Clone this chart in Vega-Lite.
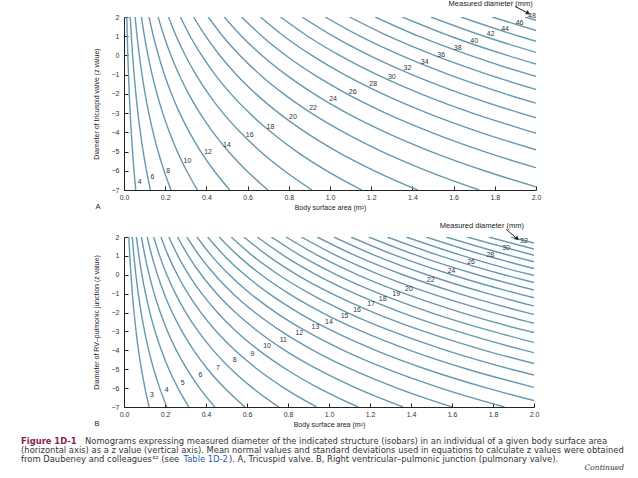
{
  "$schema": "https://vega.github.io/schema/vega-lite/v6.json",
  "autosize": {"type": "none"},
  "padding": {"left": 124, "top": 17, "right": 514, "bottom": 461},
  "background": "white",
  "config": {
    "view": {"stroke": null},
    "font": "Liberation Sans",
    "axis": {"grid": false, "domainColor": "#222", "tickColor": "#222", "labelColor": "#333", "labelFontSize": 7, "titleFontSize": 7, "titleFontWeight": "normal", "titleColor": "#222", "tickSize": -4, "labelOverlap": false, "labelBound": false, "labelFlush": false}
  },
  "datasets": {
    "curvesA": [
      {"d":4,"bsa":0.0135,"z":2},{"d":4,"bsa":0.0159,"z":1},{"d":4,"bsa":0.0186,"z":0},{"d":4,"bsa":0.0218,"z":-1},{"d":4,"bsa":0.0256,"z":-2},{"d":4,"bsa":0.0301,"z":-3},{"d":4,"bsa":0.0353,"z":-4},{"d":4,"bsa":0.0414,"z":-5},{"d":4,"bsa":0.0486,"z":-6},{"d":4,"bsa":0.0570,"z":-7},
      {"d":6,"bsa":0.0304,"z":2},{"d":6,"bsa":0.0357,"z":1},{"d":6,"bsa":0.0419,"z":0},{"d":6,"bsa":0.0491,"z":-1},{"d":6,"bsa":0.0576,"z":-2},{"d":6,"bsa":0.0676,"z":-3},{"d":6,"bsa":0.0794,"z":-4},{"d":6,"bsa":0.0931,"z":-5},{"d":6,"bsa":0.1094,"z":-6},{"d":6,"bsa":0.1283,"z":-7},
      {"d":8,"bsa":0.0541,"z":2},{"d":8,"bsa":0.0634,"z":1},{"d":8,"bsa":0.0744,"z":0},{"d":8,"bsa":0.0873,"z":-1},{"d":8,"bsa":0.1025,"z":-2},{"d":8,"bsa":0.1203,"z":-3},{"d":8,"bsa":0.1412,"z":-4},{"d":8,"bsa":0.1656,"z":-5},{"d":8,"bsa":0.1944,"z":-6},{"d":8,"bsa":0.2281,"z":-7},
      {"d":10,"bsa":0.0845,"z":2},{"d":10,"bsa":0.0991,"z":1},{"d":10,"bsa":0.1163,"z":0},{"d":10,"bsa":0.1365,"z":-1},{"d":10,"bsa":0.1601,"z":-2},{"d":10,"bsa":0.1879,"z":-3},{"d":10,"bsa":0.2206,"z":-4},{"d":10,"bsa":0.2587,"z":-5},{"d":10,"bsa":0.3038,"z":-6},{"d":10,"bsa":0.3564,"z":-7},
      {"d":12,"bsa":0.1216,"z":2},{"d":12,"bsa":0.1427,"z":1},{"d":12,"bsa":0.1675,"z":0},{"d":12,"bsa":0.1965,"z":-1},{"d":12,"bsa":0.2306,"z":-2},{"d":12,"bsa":0.2706,"z":-3},{"d":12,"bsa":0.3177,"z":-4},{"d":12,"bsa":0.3726,"z":-5},{"d":12,"bsa":0.4374,"z":-6},{"d":12,"bsa":0.5132,"z":-7},
      {"d":14,"bsa":0.1655,"z":2},{"d":14,"bsa":0.1942,"z":1},{"d":14,"bsa":0.2280,"z":0},{"d":14,"bsa":0.2675,"z":-1},{"d":14,"bsa":0.3139,"z":-2},{"d":14,"bsa":0.3683,"z":-3},{"d":14,"bsa":0.4324,"z":-4},{"d":14,"bsa":0.5071,"z":-5},{"d":14,"bsa":0.5954,"z":-6},{"d":14,"bsa":0.6985,"z":-7},
      {"d":16,"bsa":0.2162,"z":2},{"d":16,"bsa":0.2536,"z":1},{"d":16,"bsa":0.2978,"z":0},{"d":16,"bsa":0.3493,"z":-1},{"d":16,"bsa":0.4099,"z":-2},{"d":16,"bsa":0.4810,"z":-3},{"d":16,"bsa":0.5647,"z":-4},{"d":16,"bsa":0.6623,"z":-5},{"d":16,"bsa":0.7777,"z":-6},{"d":16,"bsa":0.9123,"z":-7},
      {"d":18,"bsa":0.2736,"z":2},{"d":18,"bsa":0.3210,"z":1},{"d":18,"bsa":0.3769,"z":0},{"d":18,"bsa":0.4421,"z":-1},{"d":18,"bsa":0.5188,"z":-2},{"d":18,"bsa":0.6088,"z":-3},{"d":18,"bsa":0.7147,"z":-4},{"d":18,"bsa":0.8383,"z":-5},{"d":18,"bsa":0.9842,"z":-6},{"d":18,"bsa":1.1547,"z":-7},
      {"d":20,"bsa":0.3378,"z":2},{"d":20,"bsa":0.3963,"z":1},{"d":20,"bsa":0.4653,"z":0},{"d":20,"bsa":0.5458,"z":-1},{"d":20,"bsa":0.6405,"z":-2},{"d":20,"bsa":0.7516,"z":-3},{"d":20,"bsa":0.8824,"z":-4},{"d":20,"bsa":1.0349,"z":-5},{"d":20,"bsa":1.2151,"z":-6},{"d":20,"bsa":1.4255,"z":-7},
      {"d":22,"bsa":0.4088,"z":2},{"d":22,"bsa":0.4795,"z":1},{"d":22,"bsa":0.5630,"z":0},{"d":22,"bsa":0.6605,"z":-1},{"d":22,"bsa":0.7750,"z":-2},{"d":22,"bsa":0.9094,"z":-3},{"d":22,"bsa":1.0677,"z":-4},{"d":22,"bsa":1.2523,"z":-5},{"d":22,"bsa":1.4702,"z":-6},{"d":22,"bsa":1.7249,"z":-7},
      {"d":24,"bsa":0.4865,"z":2},{"d":24,"bsa":0.5707,"z":1},{"d":24,"bsa":0.6700,"z":0},{"d":24,"bsa":0.7860,"z":-1},{"d":24,"bsa":0.9223,"z":-2},{"d":24,"bsa":1.0823,"z":-3},{"d":24,"bsa":1.2707,"z":-4},{"d":24,"bsa":1.4903,"z":-5},{"d":24,"bsa":1.7497,"z":-6},{"d":24,"bsa":2.0,"z":-6.84},
      {"d":26,"bsa":0.5710,"z":2},{"d":26,"bsa":0.6698,"z":1},{"d":26,"bsa":0.7863,"z":0},{"d":26,"bsa":0.9225,"z":-1},{"d":26,"bsa":1.0825,"z":-2},{"d":26,"bsa":1.2702,"z":-3},{"d":26,"bsa":1.4913,"z":-4},{"d":26,"bsa":1.7490,"z":-5},{"d":26,"bsa":2.0,"z":-5.84},
      {"d":28,"bsa":0.6622,"z":2},{"d":28,"bsa":0.7768,"z":1},{"d":28,"bsa":0.9119,"z":0},{"d":28,"bsa":1.0698,"z":-1},{"d":28,"bsa":1.2554,"z":-2},{"d":28,"bsa":1.4731,"z":-3},{"d":28,"bsa":1.7295,"z":-4},{"d":28,"bsa":2.0,"z":-4.91},
      {"d":30,"bsa":0.7601,"z":2},{"d":30,"bsa":0.8917,"z":1},{"d":30,"bsa":1.0469,"z":0},{"d":30,"bsa":1.2281,"z":-1},{"d":30,"bsa":1.4412,"z":-2},{"d":30,"bsa":1.6911,"z":-3},{"d":30,"bsa":1.9854,"z":-4},{"d":30,"bsa":2.0,"z":-4.05},
      {"d":32,"bsa":0.8649,"z":2},{"d":32,"bsa":1.0146,"z":1},{"d":32,"bsa":1.1911,"z":0},{"d":32,"bsa":1.3974,"z":-1},{"d":32,"bsa":1.6397,"z":-2},{"d":32,"bsa":1.9241,"z":-3},{"d":32,"bsa":2.0,"z":-3.24},
      {"d":34,"bsa":0.9764,"z":2},{"d":34,"bsa":1.1454,"z":1},{"d":34,"bsa":1.3447,"z":0},{"d":34,"bsa":1.5775,"z":-1},{"d":34,"bsa":1.8511,"z":-2},{"d":34,"bsa":2.0,"z":-2.48},
      {"d":36,"bsa":1.0946,"z":2},{"d":36,"bsa":1.2841,"z":1},{"d":36,"bsa":1.5075,"z":0},{"d":36,"bsa":1.7685,"z":-1},{"d":36,"bsa":2.0,"z":-1.77},
      {"d":38,"bsa":1.2196,"z":2},{"d":38,"bsa":1.4307,"z":1},{"d":38,"bsa":1.6797,"z":0},{"d":38,"bsa":1.9705,"z":-1},{"d":38,"bsa":2.0,"z":-1.09},
      {"d":40,"bsa":1.3514,"z":2},{"d":40,"bsa":1.5853,"z":1},{"d":40,"bsa":1.8611,"z":0},{"d":40,"bsa":2.0,"z":-0.45},
      {"d":42,"bsa":1.4899,"z":2},{"d":42,"bsa":1.7478,"z":1},{"d":42,"bsa":2.0,"z":0.16},
      {"d":44,"bsa":1.6351,"z":2},{"d":44,"bsa":1.9182,"z":1},{"d":44,"bsa":2.0,"z":0.74},
      {"d":46,"bsa":1.7872,"z":2},{"d":46,"bsa":2.0,"z":1.30},
      {"d":48,"bsa":1.9459,"z":2},{"d":48,"bsa":2.0,"z":1.83}
    ],
    "curvesB": [
      {"d":3,"bsa":0.0235,"z":2},{"d":3,"bsa":0.0283,"z":1},{"d":3,"bsa":0.0340,"z":0},{"d":3,"bsa":0.0408,"z":-1},{"d":3,"bsa":0.0490,"z":-2},{"d":3,"bsa":0.0589,"z":-3},{"d":3,"bsa":0.0708,"z":-4},{"d":3,"bsa":0.0851,"z":-5},{"d":3,"bsa":0.1022,"z":-6},{"d":3,"bsa":0.1228,"z":-7},
      {"d":4,"bsa":0.0401,"z":2},{"d":4,"bsa":0.0482,"z":1},{"d":4,"bsa":0.0579,"z":0},{"d":4,"bsa":0.0695,"z":-1},{"d":4,"bsa":0.0835,"z":-2},{"d":4,"bsa":0.1004,"z":-3},{"d":4,"bsa":0.1206,"z":-4},{"d":4,"bsa":0.1449,"z":-5},{"d":4,"bsa":0.1741,"z":-6},{"d":4,"bsa":0.2092,"z":-7},
      {"d":5,"bsa":0.0606,"z":2},{"d":5,"bsa":0.0728,"z":1},{"d":5,"bsa":0.0875,"z":0},{"d":5,"bsa":0.1051,"z":-1},{"d":5,"bsa":0.1263,"z":-2},{"d":5,"bsa":0.1518,"z":-3},{"d":5,"bsa":0.1823,"z":-4},{"d":5,"bsa":0.2190,"z":-5},{"d":5,"bsa":0.2632,"z":-6},{"d":5,"bsa":0.3162,"z":-7},
      {"d":6,"bsa":0.0850,"z":2},{"d":6,"bsa":0.1021,"z":1},{"d":6,"bsa":0.1227,"z":0},{"d":6,"bsa":0.1474,"z":-1},{"d":6,"bsa":0.1771,"z":-2},{"d":6,"bsa":0.2127,"z":-3},{"d":6,"bsa":0.2556,"z":-4},{"d":6,"bsa":0.3071,"z":-5},{"d":6,"bsa":0.3689,"z":-6},{"d":6,"bsa":0.4433,"z":-7},
      {"d":7,"bsa":0.1130,"z":2},{"d":7,"bsa":0.1358,"z":1},{"d":7,"bsa":0.1632,"z":0},{"d":7,"bsa":0.1961,"z":-1},{"d":7,"bsa":0.2355,"z":-2},{"d":7,"bsa":0.2830,"z":-3},{"d":7,"bsa":0.3400,"z":-4},{"d":7,"bsa":0.4085,"z":-5},{"d":7,"bsa":0.4908,"z":-6},{"d":7,"bsa":0.5897,"z":-7},
      {"d":8,"bsa":0.1448,"z":2},{"d":8,"bsa":0.1739,"z":1},{"d":8,"bsa":0.2090,"z":0},{"d":8,"bsa":0.2510,"z":-1},{"d":8,"bsa":0.3016,"z":-2},{"d":8,"bsa":0.3624,"z":-3},{"d":8,"bsa":0.4354,"z":-4},{"d":8,"bsa":0.5231,"z":-5},{"d":8,"bsa":0.6285,"z":-6},{"d":8,"bsa":0.7551,"z":-7},
      {"d":9,"bsa":0.1800,"z":2},{"d":9,"bsa":0.2163,"z":1},{"d":9,"bsa":0.2599,"z":0},{"d":9,"bsa":0.3122,"z":-1},{"d":9,"bsa":0.3752,"z":-2},{"d":9,"bsa":0.4507,"z":-3},{"d":9,"bsa":0.5415,"z":-4},{"d":9,"bsa":0.6506,"z":-5},{"d":9,"bsa":0.7817,"z":-6},{"d":9,"bsa":0.9391,"z":-7},
      {"d":10,"bsa":0.2189,"z":2},{"d":10,"bsa":0.2629,"z":1},{"d":10,"bsa":0.3159,"z":0},{"d":10,"bsa":0.3796,"z":-1},{"d":10,"bsa":0.4560,"z":-2},{"d":10,"bsa":0.5479,"z":-3},{"d":10,"bsa":0.6583,"z":-4},{"d":10,"bsa":0.7909,"z":-5},{"d":10,"bsa":0.9502,"z":-6},{"d":10,"bsa":1.1416,"z":-7},
      {"d":11,"bsa":0.2611,"z":2},{"d":11,"bsa":0.3137,"z":1},{"d":11,"bsa":0.3769,"z":0},{"d":11,"bsa":0.4528,"z":-1},{"d":11,"bsa":0.5440,"z":-2},{"d":11,"bsa":0.6536,"z":-3},{"d":11,"bsa":0.7853,"z":-4},{"d":11,"bsa":0.9435,"z":-5},{"d":11,"bsa":1.1336,"z":-6},{"d":11,"bsa":1.3619,"z":-7},
      {"d":12,"bsa":0.3068,"z":2},{"d":12,"bsa":0.3686,"z":1},{"d":12,"bsa":0.4428,"z":0},{"d":12,"bsa":0.5320,"z":-1},{"d":12,"bsa":0.6392,"z":-2},{"d":12,"bsa":0.7679,"z":-3},{"d":12,"bsa":0.9226,"z":-4},{"d":12,"bsa":1.1085,"z":-5},{"d":12,"bsa":1.3318,"z":-6},{"d":12,"bsa":1.6001,"z":-7},
      {"d":13,"bsa":0.3557,"z":2},{"d":13,"bsa":0.4274,"z":1},{"d":13,"bsa":0.5135,"z":0},{"d":13,"bsa":0.6170,"z":-1},{"d":13,"bsa":0.7412,"z":-2},{"d":13,"bsa":0.8906,"z":-3},{"d":13,"bsa":1.0700,"z":-4},{"d":13,"bsa":1.2855,"z":-5},{"d":13,"bsa":1.5445,"z":-6},{"d":13,"bsa":1.8556,"z":-7},
      {"d":14,"bsa":0.4081,"z":2},{"d":14,"bsa":0.4904,"z":1},{"d":14,"bsa":0.5892,"z":0},{"d":14,"bsa":0.7078,"z":-1},{"d":14,"bsa":0.8504,"z":-2},{"d":14,"bsa":1.0217,"z":-3},{"d":14,"bsa":1.2276,"z":-4},{"d":14,"bsa":1.4749,"z":-5},{"d":14,"bsa":1.7720,"z":-6},{"d":14,"bsa":2.0,"z":-6.66},
      {"d":15,"bsa":0.4638,"z":2},{"d":15,"bsa":0.5572,"z":1},{"d":15,"bsa":0.6695,"z":0},{"d":15,"bsa":0.8043,"z":-1},{"d":15,"bsa":0.9663,"z":-2},{"d":15,"bsa":1.1610,"z":-3},{"d":15,"bsa":1.3949,"z":-4},{"d":15,"bsa":1.6759,"z":-5},{"d":15,"bsa":2.0,"z":-5.96},
      {"d":16,"bsa":0.5226,"z":2},{"d":16,"bsa":0.6279,"z":1},{"d":16,"bsa":0.7544,"z":0},{"d":16,"bsa":0.9064,"z":-1},{"d":16,"bsa":1.0890,"z":-2},{"d":16,"bsa":1.3083,"z":-3},{"d":16,"bsa":1.5719,"z":-4},{"d":16,"bsa":1.8885,"z":-5},{"d":16,"bsa":2.0,"z":-5.31},
      {"d":17,"bsa":0.5847,"z":2},{"d":17,"bsa":0.7025,"z":1},{"d":17,"bsa":0.8440,"z":0},{"d":17,"bsa":1.0140,"z":-1},{"d":17,"bsa":1.2183,"z":-2},{"d":17,"bsa":1.4637,"z":-3},{"d":17,"bsa":1.7586,"z":-4},{"d":17,"bsa":2.0,"z":-4.70},
      {"d":18,"bsa":0.6500,"z":2},{"d":18,"bsa":0.7810,"z":1},{"d":18,"bsa":0.9383,"z":0},{"d":18,"bsa":1.1273,"z":-1},{"d":18,"bsa":1.3544,"z":-2},{"d":18,"bsa":1.6273,"z":-3},{"d":18,"bsa":1.9551,"z":-4},{"d":18,"bsa":2.0,"z":-4.12},
      {"d":19,"bsa":0.7184,"z":2},{"d":19,"bsa":0.8631,"z":1},{"d":19,"bsa":1.0370,"z":0},{"d":19,"bsa":1.2459,"z":-1},{"d":19,"bsa":1.4969,"z":-2},{"d":19,"bsa":1.7984,"z":-3},{"d":19,"bsa":2.0,"z":-3.58},
      {"d":20,"bsa":0.7900,"z":2},{"d":20,"bsa":0.9492,"z":1},{"d":20,"bsa":1.1404,"z":0},{"d":20,"bsa":1.3701,"z":-1},{"d":20,"bsa":1.6461,"z":-2},{"d":20,"bsa":1.9777,"z":-3},{"d":20,"bsa":2.0,"z":-3.06},
      {"d":21,"bsa":0.8647,"z":2},{"d":21,"bsa":1.0389,"z":1},{"d":21,"bsa":1.2482,"z":0},{"d":21,"bsa":1.4997,"z":-1},{"d":21,"bsa":1.8018,"z":-2},{"d":21,"bsa":2.0,"z":-2.57},
      {"d":22,"bsa":0.9425,"z":2},{"d":22,"bsa":1.1324,"z":1},{"d":22,"bsa":1.3605,"z":0},{"d":22,"bsa":1.6346,"z":-1},{"d":22,"bsa":1.9638,"z":-2},{"d":22,"bsa":2.0,"z":-2.10},
      {"d":23,"bsa":1.0235,"z":2},{"d":23,"bsa":1.2296,"z":1},{"d":23,"bsa":1.4774,"z":0},{"d":23,"bsa":1.7750,"z":-1},{"d":23,"bsa":2.0,"z":-1.65},
      {"d":24,"bsa":1.1075,"z":2},{"d":24,"bsa":1.3306,"z":1},{"d":24,"bsa":1.5986,"z":0},{"d":24,"bsa":1.9207,"z":-1},{"d":24,"bsa":2.0,"z":-1.22},
      {"d":25,"bsa":1.1944,"z":2},{"d":25,"bsa":1.4350,"z":1},{"d":25,"bsa":1.7241,"z":0},{"d":25,"bsa":2.0,"z":-0.81},
      {"d":26,"bsa":1.2844,"z":2},{"d":26,"bsa":1.5431,"z":1},{"d":26,"bsa":1.8539,"z":0},{"d":26,"bsa":2.0,"z":-0.41},
      {"d":27,"bsa":1.3772,"z":2},{"d":27,"bsa":1.6547,"z":1},{"d":27,"bsa":1.9880,"z":0},{"d":27,"bsa":2.0,"z":-0.03},
      {"d":28,"bsa":1.4733,"z":2},{"d":28,"bsa":1.7701,"z":1},{"d":28,"bsa":2.0,"z":0.33},
      {"d":29,"bsa":1.5722,"z":2},{"d":29,"bsa":1.8890,"z":1},{"d":29,"bsa":2.0,"z":0.69},
      {"d":30,"bsa":1.6741,"z":2},{"d":30,"bsa":2.0,"z":1.03},
      {"d":31,"bsa":1.7790,"z":2},{"d":31,"bsa":2.0,"z":1.36},
      {"d":32,"bsa":1.8865,"z":2},{"d":32,"bsa":2.0,"z":1.68}
    ],
    "labelsA": [
      {"t":"4","bsa":0.076,"z":-6.56},{"t":"6","bsa":0.138,"z":-6.30},{"t":"8","bsa":0.215,"z":-5.99},{"t":"10","bsa":0.308,"z":-5.50},{"t":"12","bsa":0.408,"z":-5.03},{"t":"14","bsa":0.500,"z":-4.65},{"t":"16","bsa":0.610,"z":-4.16},{"t":"18","bsa":0.711,"z":-3.72},{"t":"20","bsa":0.820,"z":-3.20},{"t":"22","bsa":0.918,"z":-2.76},{"t":"24","bsa":1.015,"z":-2.29},{"t":"26","bsa":1.110,"z":-1.89},{"t":"28","bsa":1.210,"z":-1.50},{"t":"30","bsa":1.300,"z":-1.10},{"t":"32","bsa":1.376,"z":-0.67},{"t":"34","bsa":1.460,"z":-0.32},{"t":"36","bsa":1.540,"z":0.03},{"t":"38","bsa":1.620,"z":0.38},{"t":"40","bsa":1.700,"z":0.76},{"t":"42","bsa":1.780,"z":1.11},{"t":"44","bsa":1.850,"z":1.37},{"t":"46","bsa":1.920,"z":1.69},{"t":"48","bsa":1.980,"z":2.03}
    ],
    "labelsB": [
      {"t":"3","bsa":0.136,"z":-6.38},{"t":"4","bsa":0.208,"z":-6.08},{"t":"5","bsa":0.286,"z":-5.72},{"t":"6","bsa":0.373,"z":-5.32},{"t":"7","bsa":0.458,"z":-4.93},{"t":"8","bsa":0.540,"z":-4.53},{"t":"9","bsa":0.626,"z":-4.19},{"t":"10","bsa":0.698,"z":-3.78},{"t":"11","bsa":0.777,"z":-3.43},{"t":"12","bsa":0.855,"z":-3.08},{"t":"13","bsa":0.934,"z":-2.78},{"t":"14","bsa":1.000,"z":-2.48},{"t":"15","bsa":1.076,"z":-2.16},{"t":"16","bsa":1.137,"z":-1.85},{"t":"17","bsa":1.205,"z":-1.55},{"t":"18","bsa":1.262,"z":-1.28},{"t":"19","bsa":1.328,"z":-1.00},{"t":"20","bsa":1.390,"z":-0.75},{"t":"22","bsa":1.496,"z":-0.26},{"t":"24","bsa":1.598,"z":0.20},{"t":"26","bsa":1.693,"z":0.66},{"t":"28","bsa":1.787,"z":1.03},{"t":"30","bsa":1.864,"z":1.44},{"t":"32","bsa":1.951,"z":1.77}
    ]
  },
  "spacing": 47,
  "bounds": "flush",
  "vconcat": [
    {
      "width": 412,
      "height": 173,
      "layer": [
        {
          "data": {"name": "curvesA"},
          "mark": {"type": "line", "interpolate": "monotone", "color": "#6698b0", "strokeWidth": 1.4, "clip": true},
          "encoding": {
            "x": {"field": "bsa", "type": "quantitative", "scale": {"domain": [0, 2], "nice": false, "zero": false},
                  "axis": {"values": [0, 0.2, 0.4, 0.6, 0.8, 1, 1.2, 1.4, 1.6, 1.8, 2], "format": ".1f", "title": "Body surface area (m²)", "labelPadding": 7.5, "titlePadding": 3, "labelOverlap": false}},
            "y": {"field": "z", "type": "quantitative", "scale": {"domain": [-7, 2], "nice": false, "zero": false},
                  "axis": {"values": [-7, -6, -5, -4, -3, -2, -1, 0, 1, 2], "tickCount": 10, "title": "Diameter of tricuspid valve (z value)", "labelPadding": 9, "titlePadding": 12, "labelOverlap": false, "labelSeparation": 0}},
            "detail": {"field": "d", "type": "nominal"}
          }
        },
        {
          "data": {"name": "labelsA"},
          "mark": {"type": "text", "fontSize": 7, "color": "#333"},
          "encoding": {
            "x": {"field": "bsa", "type": "quantitative", "scale": {"domain": [0, 2], "nice": false, "zero": false}},
            "y": {"field": "z", "type": "quantitative", "scale": {"domain": [-7, 2], "nice": false, "zero": false}},
            "text": {"field": "t"}
          }
        },
        {
          "data": {"values": [{"bsa": 1.78, "z": 2.70, "t": "Measured diameter (mm)"}, {"bsa": -0.126, "z": -7.89, "t": "A"}]},
          "mark": {"type": "text", "fontSize": 7.5, "color": "#222"},
          "encoding": {
            "x": {"field": "bsa", "type": "quantitative", "scale": {"domain": [0, 2], "nice": false, "zero": false}},
            "y": {"field": "z", "type": "quantitative", "scale": {"domain": [-7, 2], "nice": false, "zero": false}},
            "text": {"field": "t"}
          }
        },
        {
          "data": {"values": [{"bsa": 1.898, "z": 2.55, "bsa2": 1.958, "z2": 2.22}]},
          "mark": {"type": "rule", "color": "#222", "strokeWidth": 1},
          "encoding": {
            "x": {"field": "bsa", "type": "quantitative", "scale": {"domain": [0, 2], "nice": false, "zero": false}},
            "y": {"field": "z", "type": "quantitative", "scale": {"domain": [-7, 2], "nice": false, "zero": false}},
            "x2": {"field": "bsa2"},
            "y2": {"field": "z2"}
          }
        },
        {
          "data": {"values": [{"bsa": 1.962, "z": 2.20}]},
          "mark": {"type": "point", "shape": "triangle-right", "filled": true, "color": "#222", "size": 22, "angle": 30, "opacity": 1},
          "encoding": {
            "x": {"field": "bsa", "type": "quantitative", "scale": {"domain": [0, 2], "nice": false, "zero": false}},
            "y": {"field": "z", "type": "quantitative", "scale": {"domain": [-7, 2], "nice": false, "zero": false}}
          }
        }
      ]
    },
    {
      "width": 410,
      "height": 170,
      "layer": [
        {
          "data": {"name": "curvesB"},
          "mark": {"type": "line", "interpolate": "monotone", "color": "#6698b0", "strokeWidth": 1.4, "clip": true},
          "encoding": {
            "x": {"field": "bsa", "type": "quantitative", "scale": {"domain": [0, 2], "nice": false, "zero": false},
                  "axis": {"values": [0, 0.2, 0.4, 0.6, 0.8, 1, 1.2, 1.4, 1.6, 1.8, 2], "format": ".1f", "title": "Body surface area (m²)", "labelPadding": 7.5, "titlePadding": 3, "labelOverlap": false}},
            "y": {"field": "z", "type": "quantitative", "scale": {"domain": [-7, 2], "nice": false, "zero": false},
                  "axis": {"values": [-7, -6, -5, -4, -3, -2, -1, 0, 1, 2], "tickCount": 10, "title": "Diameter of RV–pulmonic junction (z value)", "labelPadding": 9, "titlePadding": 12, "labelOverlap": false, "labelSeparation": 0}},
            "detail": {"field": "d", "type": "nominal"}
          }
        },
        {
          "data": {"name": "labelsB"},
          "mark": {"type": "text", "fontSize": 7, "color": "#333"},
          "encoding": {
            "x": {"field": "bsa", "type": "quantitative", "scale": {"domain": [0, 2], "nice": false, "zero": false}},
            "y": {"field": "z", "type": "quantitative", "scale": {"domain": [-7, 2], "nice": false, "zero": false}},
            "text": {"field": "t"}
          }
        },
        {
          "data": {"values": [{"bsa": 1.746, "z": 2.58, "t": "Measured diameter (mm)"}, {"bsa": -0.132, "z": -7.89, "t": "B"}]},
          "mark": {"type": "text", "fontSize": 7.5, "color": "#222"},
          "encoding": {
            "x": {"field": "bsa", "type": "quantitative", "scale": {"domain": [0, 2], "nice": false, "zero": false}},
            "y": {"field": "z", "type": "quantitative", "scale": {"domain": [-7, 2], "nice": false, "zero": false}},
            "text": {"field": "t"}
          }
        },
        {
          "data": {"values": [{"bsa": 1.865, "z": 2.40, "bsa2": 1.915, "z2": 1.93}]},
          "mark": {"type": "rule", "color": "#222", "strokeWidth": 1},
          "encoding": {
            "x": {"field": "bsa", "type": "quantitative", "scale": {"domain": [0, 2], "nice": false, "zero": false}},
            "y": {"field": "z", "type": "quantitative", "scale": {"domain": [-7, 2], "nice": false, "zero": false}},
            "x2": {"field": "bsa2"},
            "y2": {"field": "z2"}
          }
        },
        {
          "data": {"values": [{"bsa": 1.918, "z": 1.91}]},
          "mark": {"type": "point", "shape": "triangle-right", "filled": true, "color": "#222", "size": 22, "angle": 45, "opacity": 1},
          "encoding": {
            "x": {"field": "bsa", "type": "quantitative", "scale": {"domain": [0, 2], "nice": false, "zero": false}},
            "y": {"field": "z", "type": "quantitative", "scale": {"domain": [-7, 2], "nice": false, "zero": false}}
          }
        },
        {
          "data": {"values": [{"bsa": -0.502, "z": -8.80, "t": "Figure 1D-1"}]},
          "mark": {"type": "text", "font": "DejaVu Sans", "fontSize": 8.4, "fontWeight": "bold", "color": "#8b2252", "align": "left"},
          "encoding": {
            "x": {"field": "bsa", "type": "quantitative", "scale": {"domain": [0, 2], "nice": false, "zero": false}},
            "y": {"field": "z", "type": "quantitative", "scale": {"domain": [-7, 2], "nice": false, "zero": false}},
            "text": {"field": "t"}
          }
        },
        {
          "data": {"values": [
            {"bsa": -0.19, "z": -8.80, "t": "Nomograms expressing measured diameter of the indicated structure (isobars) in an individual of a given body surface area"},
            {"bsa": -0.502, "z": -9.27, "t": "(horizontal axis) as a z value (vertical axis). Mean normal values and standard deviations used in equations to calculate z values were obtained"},
            {"bsa": -0.502, "z": -9.75, "t": "from Daubeney and colleagues³² (see"},
            {"bsa": 0.512, "z": -9.75, "t": "). A, Tricuspid valve. B, Right ventricular–pulmonic junction (pulmonary valve)."}
          ]},
          "mark": {"type": "text", "font": "DejaVu Sans", "fontSize": 8.4, "color": "#333", "align": "left"},
          "encoding": {
            "x": {"field": "bsa", "type": "quantitative", "scale": {"domain": [0, 2], "nice": false, "zero": false}},
            "y": {"field": "z", "type": "quantitative", "scale": {"domain": [-7, 2], "nice": false, "zero": false}},
            "text": {"field": "t"}
          }
        },
        {
          "data": {"values": [{"bsa": 0.29, "z": -9.75, "t": "Table 1D-2"}]},
          "mark": {"type": "text", "font": "DejaVu Sans", "fontSize": 8.4, "color": "#2a5db0", "align": "left"},
          "encoding": {
            "x": {"field": "bsa", "type": "quantitative", "scale": {"domain": [0, 2], "nice": false, "zero": false}},
            "y": {"field": "z", "type": "quantitative", "scale": {"domain": [-7, 2], "nice": false, "zero": false}},
            "text": {"field": "t"}
          }
        },
        {
          "data": {"values": [{"bsa": 2.439, "z": -10.22, "t": "Continued"}]},
          "mark": {"type": "text", "font": "DejaVu Serif", "fontSize": 7.5, "fontStyle": "italic", "color": "#333", "align": "right"},
          "encoding": {
            "x": {"field": "bsa", "type": "quantitative", "scale": {"domain": [0, 2], "nice": false, "zero": false}},
            "y": {"field": "z", "type": "quantitative", "scale": {"domain": [-7, 2], "nice": false, "zero": false}},
            "text": {"field": "t"}
          }
        }
      ]
    }
  ]
}
